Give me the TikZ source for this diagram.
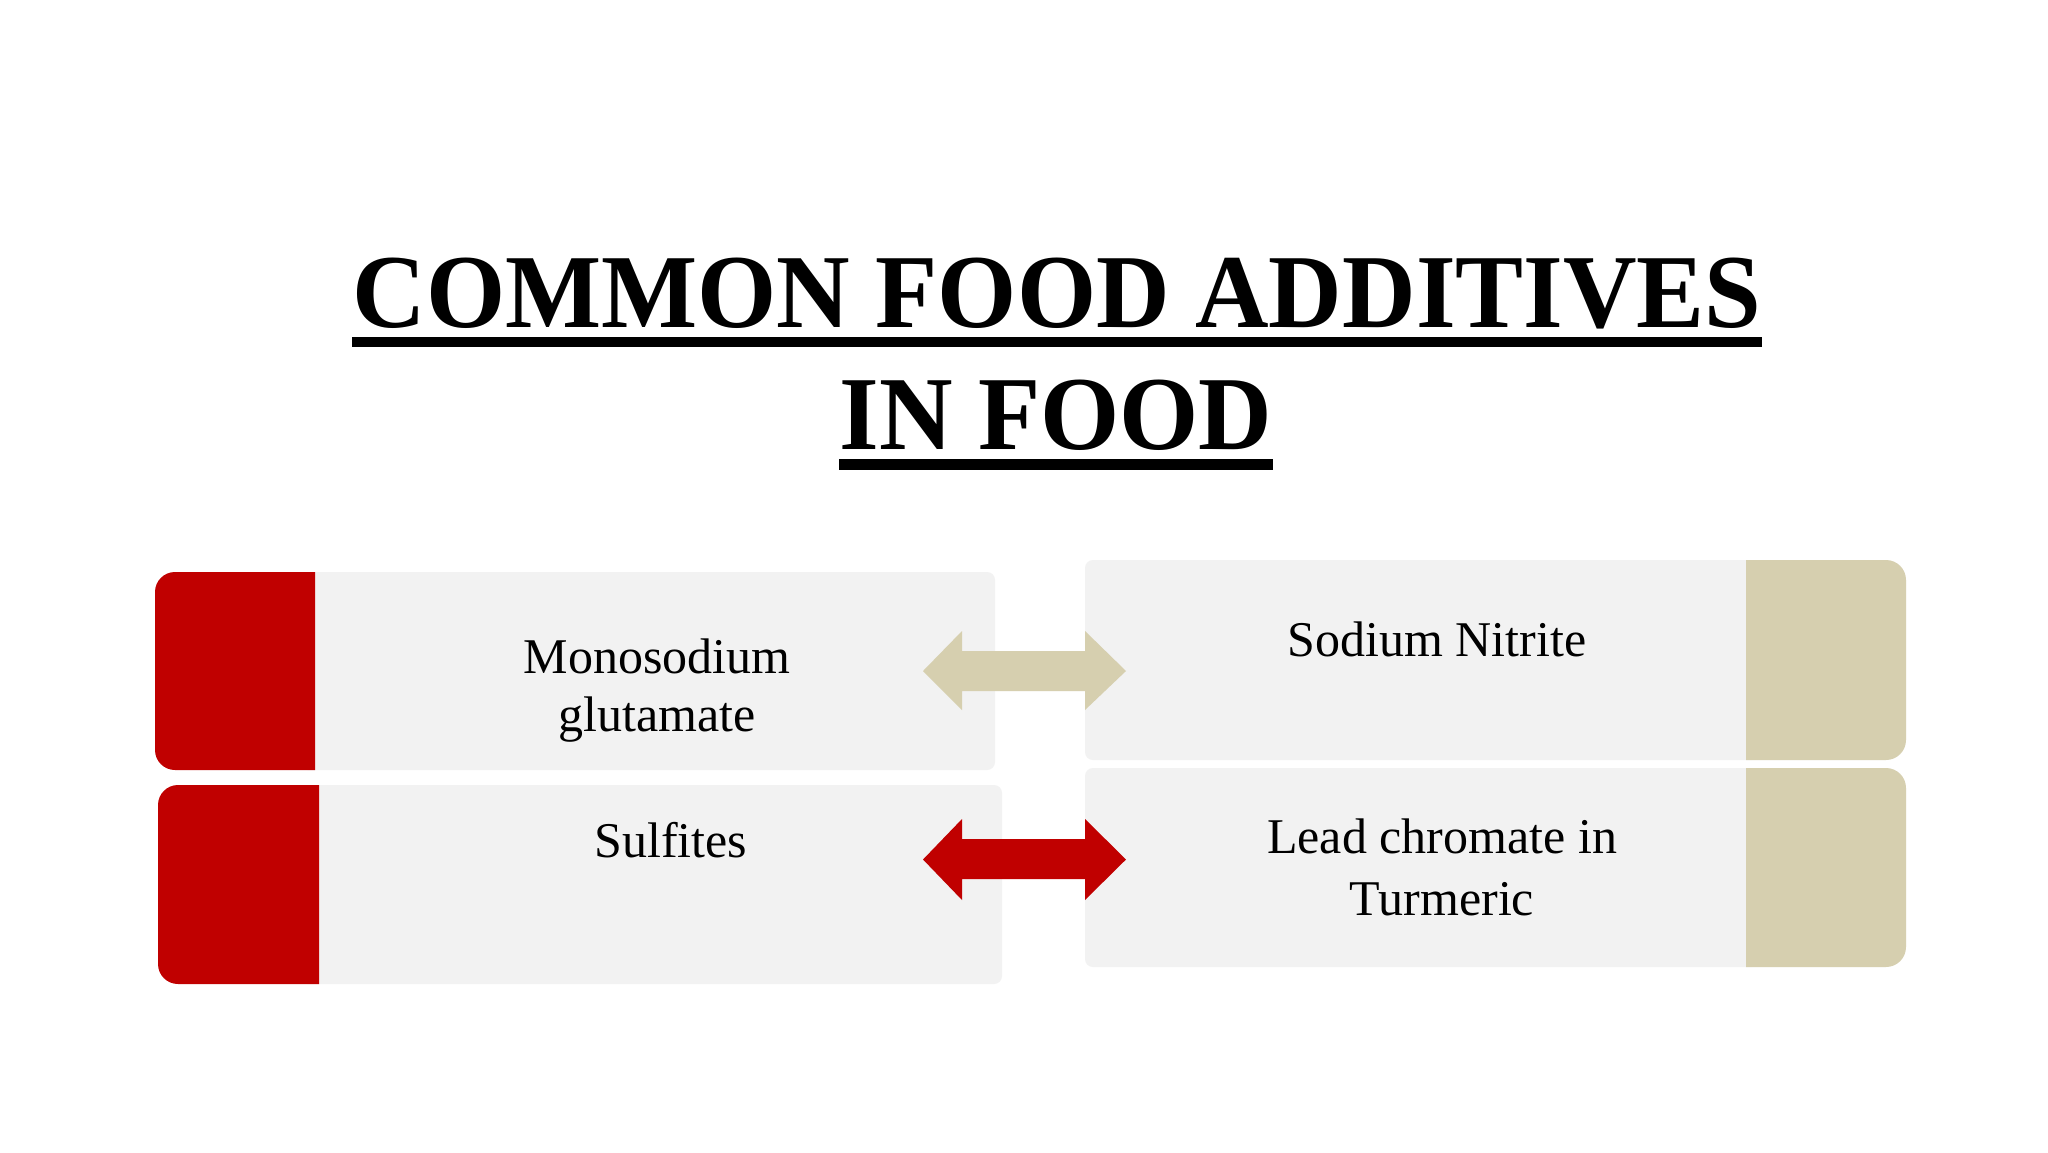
\documentclass[tikz,border=0pt]{standalone}
\usepackage{fontspec}
\setmainfont{Liberation Serif}
\newfontfamily\titlefont[FakeStretch=0.97]{Liberation Serif}
\definecolor{addred}{HTML}{C00000}
\definecolor{addtan}{HTML}{D6CFAF}
\definecolor{addgray}{HTML}{F2F2F2}
\tikzset{
  x=1pt, y=1pt,
  titletext/.style={inner sep=0pt, anchor=base, font=\titlefont\bfseries\fontsize{105}{120}\selectfont},
  itemtext/.style={inner sep=0pt, anchor=base, align=center, font=\fontsize{50}{58}\selectfont},
  graybox/.style={fill=addgray, rounded corners=8pt},
}
\begin{document}
\begin{tikzpicture}
\useasboundingbox[fill=white] (0,0) rectangle (2048,-1152);

% title
\node[titletext] (t1) at (1057,-327) {COMMON FOOD ADDITIVES};
\node[titletext] (t2) at (1056,-449) {IN FOOD};
\fill ([yshift=-10pt]t1.base west) rectangle ([yshift=-20pt]t1.base east);
\fill ([yshift=-10pt]t2.base west) rectangle ([yshift=-21pt]t2.base east);

% box 1 : Monosodium glutamate
\fill[graybox] (300,-572) rectangle (995,-770);
\fill[addred] (315,-572) -- (175,-572) arc[start angle=90,end angle=180,radius=20pt]
  -- (155,-750) arc[start angle=180,end angle=270,radius=20pt] -- (315,-770) -- cycle;
\node[itemtext] (msg) at (657,-731) {Monosodium\\glutamate};

% box 2 : Sulfites
\fill[graybox] (300,-785) rectangle (1002,-984);
\fill[addred] (319,-785) -- (178,-785) arc[start angle=90,end angle=180,radius=20pt]
  -- (158,-964) arc[start angle=180,end angle=270,radius=20pt] -- (319,-984) -- cycle;
\node[itemtext] (sul) at (671,-857) {Sulfites};

% box 3 : Sodium Nitrite
\fill[graybox] (1085,-560) rectangle (1760,-760);
\fill[addtan] (1746,-560) -- (1886,-560) arc[start angle=90,end angle=0,radius=20pt]
  -- (1906,-740) arc[start angle=0,end angle=-90,radius=20pt] -- (1746,-760) -- cycle;
\node[itemtext] (nit) at (1437,-656) {Sodium Nitrite};

% box 4 : Lead chromate in Turmeric
\fill[graybox] (1085,-768) rectangle (1760,-967);
\fill[addtan] (1746,-768) -- (1886,-768) arc[start angle=90,end angle=0,radius=20pt]
  -- (1906,-947) arc[start angle=0,end angle=-90,radius=20pt] -- (1746,-967) -- cycle;
\node[itemtext, font=\fontsize{50}{62}\selectfont] (lead) at (1442,-915) {Lead chromate in\\Turmeric};

% double arrows
\fill[addtan] (923,-671) -- (962,-631) -- (962,-651) -- (1085,-651) -- (1085,-631)
  -- (1126,-671) -- (1085,-710) -- (1085,-691) -- (962,-691) -- (962,-710) -- cycle;
\fill[addred] (923,-859.5) -- (962,-819) -- (962,-839) -- (1085,-839) -- (1085,-819)
  -- (1126,-859.5) -- (1085,-900) -- (1085,-879) -- (962,-879) -- (962,-900) -- cycle;
\end{tikzpicture}
\end{document}
